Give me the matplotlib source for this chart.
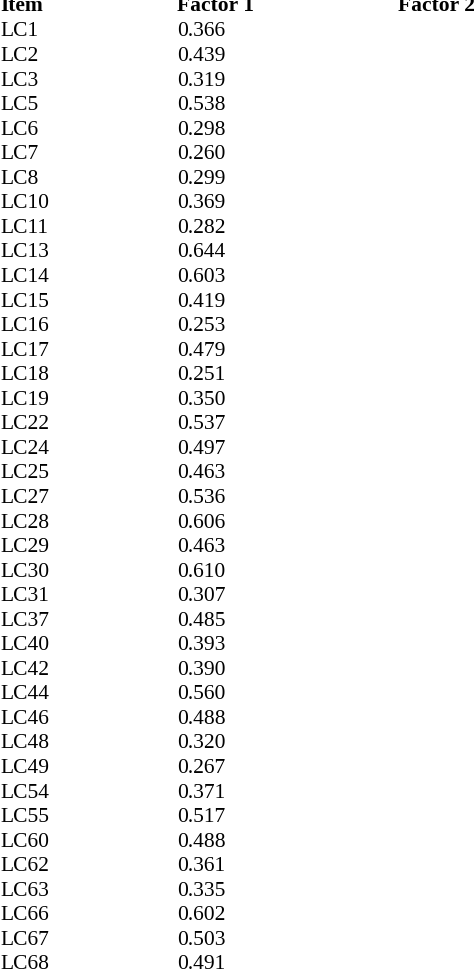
import matplotlib.pyplot as plt

HEADERS = ["Item", "Factor 1", "Factor 2"]

ITEMS = [
    "LC1", "LC2", "LC3", "LC5", "LC6", "LC7", "LC8", "LC10", "LC11", "LC13",
    "LC14", "LC15", "LC16", "LC17", "LC18", "LC19", "LC22", "LC24", "LC25",
    "LC27", "LC28", "LC29", "LC30", "LC31", "LC37", "LC40", "LC42", "LC44",
    "LC46", "LC48", "LC49", "LC54", "LC55", "LC60", "LC62", "LC63", "LC66",
    "LC67", "LC68",
]

FACTOR1 = [
    "0.366", "0.439", "0.319", "0.538", "0.298", "0.260", "0.299", "0.369",
    "0.282", "0.644", "0.603", "0.419", "0.253", "0.479", "0.251", "0.350",
    "0.537", "0.497", "0.463", "0.536", "0.606", "0.463", "0.610", "0.307",
    "0.485", "0.393", "0.390", "0.560", "0.488", "0.320", "0.267", "0.371",
    "0.517", "0.488", "0.361", "0.335", "0.602", "0.503", "0.491",
]

W, H = 474, 978
fig = plt.figure(figsize=(W / 100, H / 100), dpi=100)
ax = fig.add_axes([0, 0, 1, 1])
ax.set_xlim(0, W)
ax.set_ylim(H, 0)
ax.axis("off")

col_x = [0, 177, 398]
header_y = 6
row0_y = 32
row_step = 24.55
font = dict(family="Liberation Serif", fontsize=15.5, va="center", ha="left")

for x, label in zip(col_x, HEADERS):
    ax.text(x, header_y, label, fontweight="bold", **font)

for i, (item, val) in enumerate(zip(ITEMS, FACTOR1)):
    y = row0_y + i * row_step
    ax.text(col_x[0], y, item, **font)
    ax.text(col_x[1], y, val, **font)

fig.savefig("out.png", dpi=100)
